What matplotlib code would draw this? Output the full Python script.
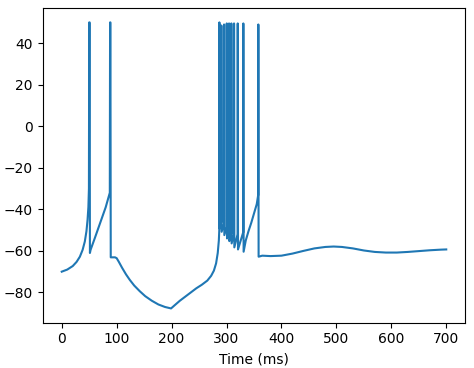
import matplotlib
matplotlib.use("Agg")
import matplotlib.pyplot as plt

# membrane potential trace (time in ms, voltage in mV)
time_ms = [
    0, 10, 20, 27, 33, 38, 42, 45, 47, 48.5, 49.5,
    50.0, 50.8, 51.3, 52.5, 60, 70, 80, 87.5,
    88.0, 88.6, 89.2, 97, 100, 104, 110, 117, 124, 132, 142, 152, 164, 176, 188, 199,
    205, 215, 225, 235, 245, 255, 265, 272, 277, 281, 284, 286, 286.8,
    287.0, 287.5, 290.4,
    290.6, 291.1, 295.3,
    295.5, 296.0, 300.2,
    300.4, 300.9, 304.4,
    304.6, 305.1, 308.6,
    308.8, 309.3, 313.5,
    313.7, 314.2, 320.2,
    320.4, 320.9, 330.4,
    330.6, 331.1, 335, 340, 345, 350, 355, 357.7,
    357.9, 358.4, 365, 380, 400, 420, 440, 460, 480, 495, 510, 530, 550, 570,
    590, 610, 630, 650, 670, 690, 700,
]
v_mv = [
    -70, -69, -67.3, -65.3, -62.8, -59.5, -55.5, -50.5, -45, -39, -30,
    50, 50, -61, -59.5, -54, -46.5, -39, -32,
    50, 50, -63.1, -63.1, -63.5, -65.3, -68.2, -71.3, -74, -76.7, -79.4, -81.8, -84, -85.8, -87, -87.7,
    -86.3, -84, -82, -80, -78, -76.3, -74.3, -72, -69.5, -66, -61, -55, -50,
    50, -49.2, -46,
    48.5, -50.8, -47,
    49, -52.4, -48.5,
    49.5, -54, -50,
    49.5, -55.3, -51.5,
    49.5, -56.4, -52,
    49.5, -58.3, -52,
    49.5, -59.3, -51,
    49.5, -60.4, -55, -50.5, -46.5, -42, -37.5, -33,
    49, -62.8, -62.3, -62.5, -62.3, -61.3, -60, -58.8, -58.1, -57.9, -58.1, -58.8, -59.8, -60.5,
    -60.8, -60.8, -60.5, -60.1, -59.7, -59.4, -59.3,
]

fig, ax = plt.subplots(figsize=(4.74, 3.68), dpi=100)
fig.subplots_adjust(left=0.0897, right=0.982, top=0.978, bottom=0.123)
ax.plot(time_ms, v_mv)
ax.set_xlabel("Time (ms)")
fig.savefig("out.png", dpi=100)
